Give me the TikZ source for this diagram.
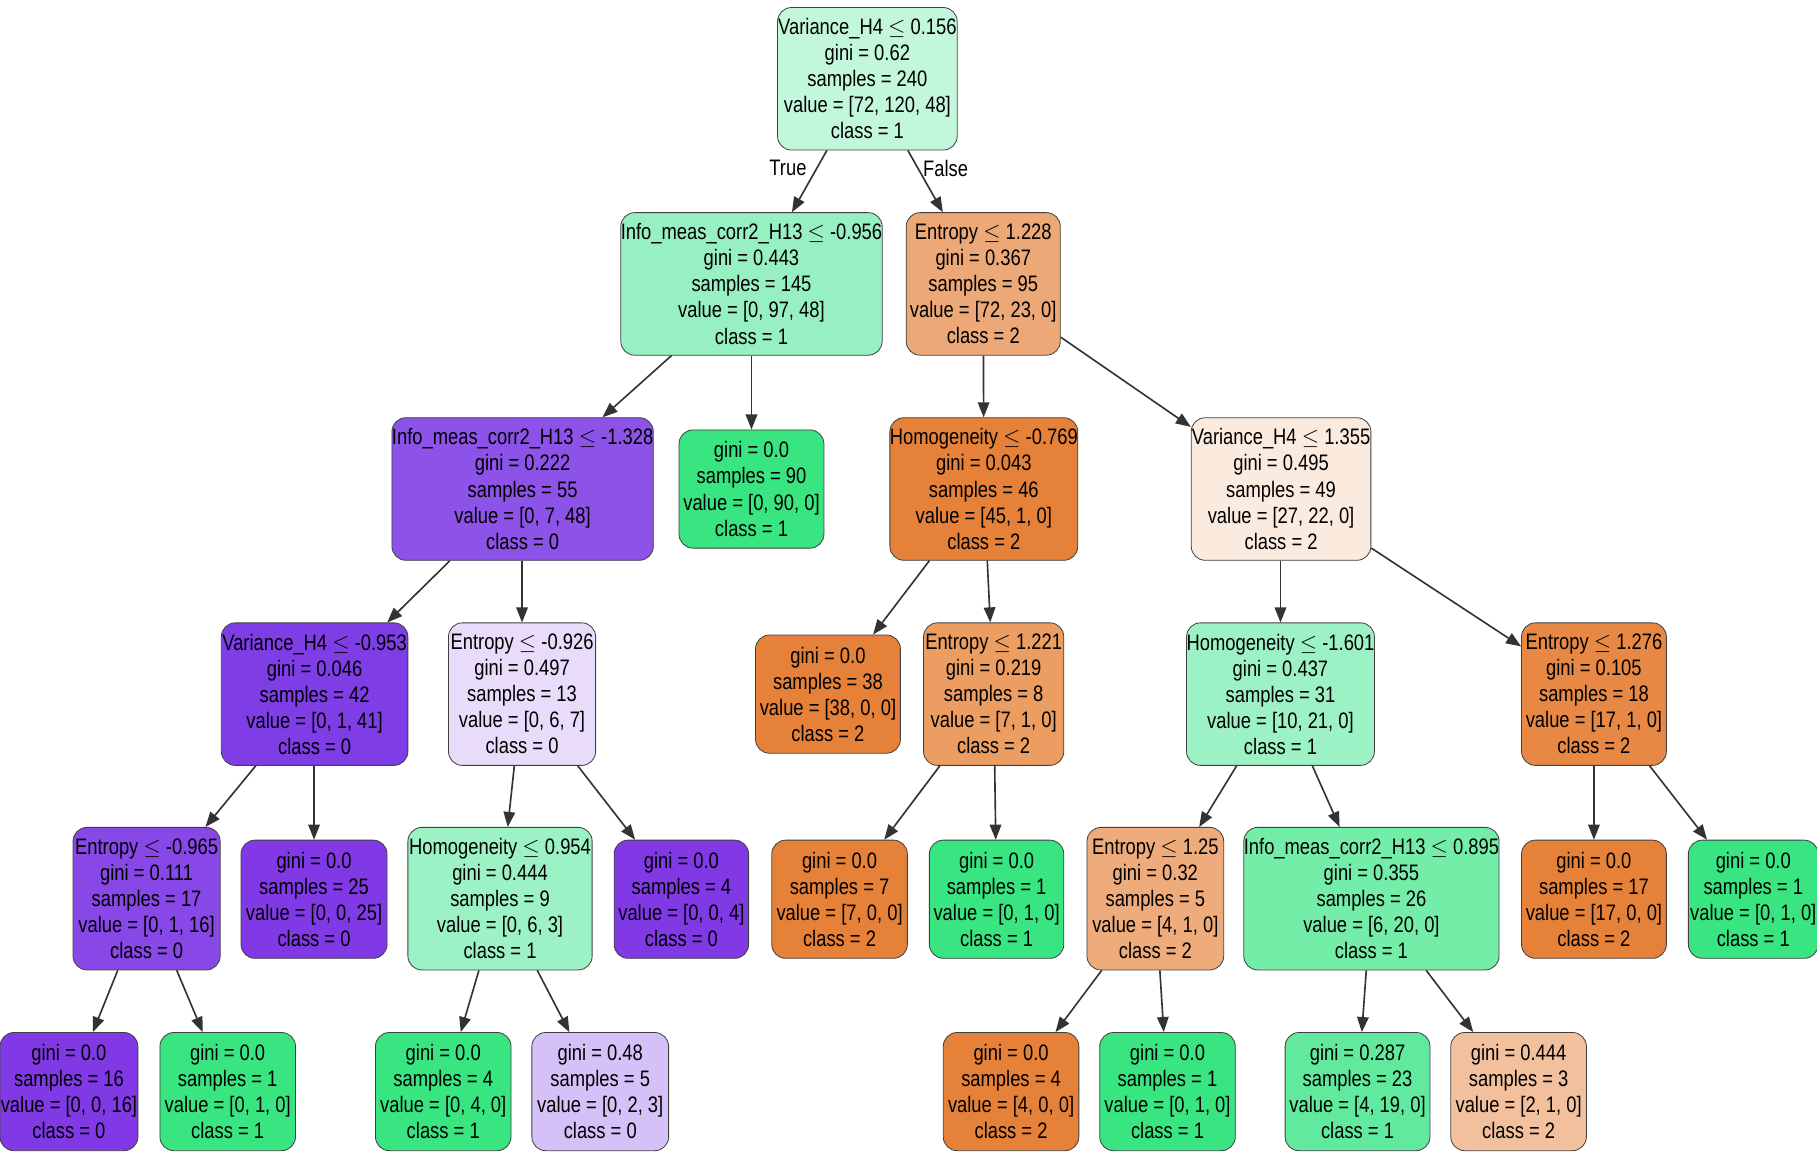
\documentclass[tikz,border=0pt]{standalone}
\usepackage{fontspec}
\setmainfont{Liberation Sans}[FakeStretch=0.82]
\usepackage{amssymb}
\usetikzlibrary{arrows.meta}
\tikzset{>={Triangle[length=2.6mm,width=2mm]}}
\definecolor{rootc}{HTML}{C3F7DC}
\definecolor{gA}{HTML}{97F0C1}
\definecolor{gB}{HTML}{39E581}
\definecolor{gC}{HTML}{9CF2C4}
\definecolor{gD}{HTML}{74EDA9}
\definecolor{gE}{HTML}{61EA9E}
\definecolor{oA}{HTML}{EDA877}
\definecolor{oB}{HTML}{E58139}
\definecolor{oC}{HTML}{FBEADE}
\definecolor{oD}{HTML}{EB9D62}
\definecolor{oE}{HTML}{E78945}
\definecolor{oF}{HTML}{EEAB7B}
\definecolor{oG}{HTML}{F2C09C}
\definecolor{pA}{HTML}{8D52E8}
\definecolor{pB}{HTML}{7F3DE6}
\definecolor{pC}{HTML}{E9DCFA}
\definecolor{pD}{HTML}{8847E7}
\definecolor{pE}{HTML}{8139E5}
\definecolor{pF}{HTML}{D5C1F7}
\tikzset{
  box/.style={draw=black!75, rounded corners=2.4mm, align=center, inner sep=0pt,
    font=\fontsize{11}{12.8}\selectfont, minimum height=24.6mm},
  leaf/.style={box, minimum height=20.4mm},
  edge/.style={->, black!80, thick}
}
\begin{document}
\begin{tikzpicture}[x=0.2mm,y=-0.2mm]
    \useasboundingbox (0,0) rectangle (1568,1009);
    % level 0
    \node[box, fill=rootc, minimum width=31mm] (root) at (748.5,68) {Variance\_H4 $\leq$ 0.156\\gini = 0.62\\samples = 240\\value = [72, 120, 48]\\class = 1};
    % level 1
    \node[box, fill=gA, minimum width=44.6mm] (imcA) at (648.5,245) {Info\_meas\_corr2\_H13 $\leq$ -0.956\\gini = 0.443\\samples = 145\\value = [0, 97, 48]\\class = 1};
    \node[box, fill=oA, minimum width=26.6mm] (entA) at (848.5,245) {Entropy $\leq$ 1.228\\gini = 0.367\\samples = 95\\value = [72, 23, 0]\\class = 2};
    % level 2
    \node[box, fill=pA, minimum width=44.8mm] (imcB) at (451,422) {Info\_meas\_corr2\_H13 $\leq$ -1.328\\gini = 0.222\\samples = 55\\value = [0, 7, 48]\\class = 0};
    \node[leaf, fill=gB, minimum width=25mm] (lfA) at (648.5,422) {gini = 0.0\\samples = 90\\value = [0, 90, 0]\\class = 1};
    \node[box, fill=oB, minimum width=32.4mm] (homA) at (849,422) {Homogeneity $\leq$ -0.769\\gini = 0.043\\samples = 46\\value = [45, 1, 0]\\class = 2};
    \node[box, fill=oC, minimum width=31mm] (varA) at (1105.5,422) {Variance\_H4 $\leq$ 1.355\\gini = 0.495\\samples = 49\\value = [27, 22, 0]\\class = 2};
    % level 3
    \node[box, fill=pB, minimum width=32.2mm] (varB) at (271.5,599) {Variance\_H4 $\leq$ -0.953\\gini = 0.046\\samples = 42\\value = [0, 1, 41]\\class = 0};
    \node[box, fill=pC, minimum width=25.4mm] (entB) at (450.5,599) {Entropy $\leq$ -0.926\\gini = 0.497\\samples = 13\\value = [0, 6, 7]\\class = 0};
    \node[leaf, fill=oB, minimum width=25mm] (lfB) at (714.5,599) {gini = 0.0\\samples = 38\\value = [38, 0, 0]\\class = 2};
    \node[box, fill=oD, minimum width=24.2mm] (entC) at (857.5,599) {Entropy $\leq$ 1.221\\gini = 0.219\\samples = 8\\value = [7, 1, 0]\\class = 2};
    \node[box, fill=gC, minimum width=32.4mm] (homB) at (1105,599) {Homogeneity $\leq$ -1.601\\gini = 0.437\\samples = 31\\value = [10, 21, 0]\\class = 1};
    \node[box, fill=oE, minimum width=25mm] (entD) at (1375.5,599) {Entropy $\leq$ 1.276\\gini = 0.105\\samples = 18\\value = [17, 1, 0]\\class = 2};
    % level 4
    \node[box, fill=pD, minimum width=25.4mm] (entE) at (126.5,775.5) {Entropy $\leq$ -0.965\\gini = 0.111\\samples = 17\\value = [0, 1, 16]\\class = 0};
    \node[leaf, fill=pE, minimum width=25.2mm] (lfC) at (271,776) {gini = 0.0\\samples = 25\\value = [0, 0, 25]\\class = 0};
    \node[box, fill=gC, minimum width=31.8mm] (homC) at (431.5,775.5) {Homogeneity $\leq$ 0.954\\gini = 0.444\\samples = 9\\value = [0, 6, 3]\\class = 1};
    \node[leaf, fill=pE, minimum width=23.2mm] (lfD) at (588,776) {gini = 0.0\\samples = 4\\value = [0, 0, 4]\\class = 0};
    \node[leaf, fill=oB, minimum width=23.4mm] (lfE) at (724.5,776) {gini = 0.0\\samples = 7\\value = [7, 0, 0]\\class = 2};
    \node[leaf, fill=gB, minimum width=23.2mm] (lfF) at (860,776) {gini = 0.0\\samples = 1\\value = [0, 1, 0]\\class = 1};
    \node[box, fill=oF, minimum width=23.6mm] (entF) at (997,775.5) {Entropy $\leq$ 1.25\\gini = 0.32\\samples = 5\\value = [4, 1, 0]\\class = 2};
    \node[box, fill=gD, minimum width=43.8mm] (imcC) at (1183.5,775.5) {Info\_meas\_corr2\_H13 $\leq$ 0.895\\gini = 0.355\\samples = 26\\value = [6, 20, 0]\\class = 1};
    \node[leaf, fill=oB, minimum width=25mm] (lfG) at (1375.5,776) {gini = 0.0\\samples = 17\\value = [17, 0, 0]\\class = 2};
    \node[leaf, fill=gB, minimum width=22.4mm] (lfH) at (1513,776) {gini = 0.0\\samples = 1\\value = [0, 1, 0]\\class = 1};
    % level 5
    \node[leaf, fill=pE, minimum width=23.8mm] (lfI) at (59.5,942) {gini = 0.0\\samples = 16\\value = [0, 0, 16]\\class = 0};
    \node[leaf, fill=gB, minimum width=23.4mm] (lfJ) at (196.5,942) {gini = 0.0\\samples = 1\\value = [0, 1, 0]\\class = 1};
    \node[leaf, fill=gB, minimum width=23.4mm] (lfK) at (382.5,942) {gini = 0.0\\samples = 4\\value = [0, 4, 0]\\class = 1};
    \node[leaf, fill=pF, minimum width=23.6mm] (lfL) at (518,942) {gini = 0.48\\samples = 5\\value = [0, 2, 3]\\class = 0};
    \node[leaf, fill=oB, minimum width=23.4mm] (lfM) at (872.5,942) {gini = 0.0\\samples = 4\\value = [4, 0, 0]\\class = 2};
    \node[leaf, fill=gB, minimum width=23.4mm] (lfN) at (1007.5,942) {gini = 0.0\\samples = 1\\value = [0, 1, 0]\\class = 1};
    \node[leaf, fill=gE, minimum width=25mm] (lfO) at (1171.5,942) {gini = 0.287\\samples = 23\\value = [4, 19, 0]\\class = 1};
    \node[leaf, fill=oG, minimum width=23.4mm] (lfP) at (1310.5,942) {gini = 0.444\\samples = 3\\value = [2, 1, 0]\\class = 2};

    \draw[edge] (root) -- (imcA);
    \draw[edge] (root) -- (entA);
    \node[font=\fontsize{11}{12.8}\selectfont] (lblT) at (680,145) {True};
    \node[font=\fontsize{11}{12.8}\selectfont] (lblF) at (816,145) {False};
    \draw[edge] (imcA) -- (imcB);
    \draw[edge] (imcA.south -| lfA) -- (lfA);
    \draw[edge] (entA) -- (homA);
    \draw[edge] (entA) -- (varA);
    \draw[edge] (imcB) -- (varB);
    \draw[edge] (imcB.south -| entB) -- (entB);
    \draw[edge] (homA) -- (lfB);
    \draw[edge] (homA) -- (entC);
    \draw[edge] (varA.south -| homB) -- (homB);
    \draw[edge] (varA) -- (entD);
    \draw[edge] (varB) -- (entE);
    \draw[edge] (varB.south -| lfC) -- (lfC);
    \draw[edge] (entB) -- (homC);
    \draw[edge] (entB) -- (lfD);
    \draw[edge] (entC) -- (lfE);
    \draw[edge] (entC) -- (lfF);
    \draw[edge] (homB) -- (entF);
    \draw[edge] (homB) -- (imcC);
    \draw[edge] (entD.south -| lfG) -- (lfG);
    \draw[edge] (entD) -- (lfH);
    \draw[edge] (entE) -- (lfI);
    \draw[edge] (entE) -- (lfJ);
    \draw[edge] (homC) -- (lfK);
    \draw[edge] (homC) -- (lfL);
    \draw[edge] (entF) -- (lfM);
    \draw[edge] (entF) -- (lfN);
    \draw[edge] (imcC) -- (lfO);
    \draw[edge] (imcC) -- (lfP);
\end{tikzpicture}
\end{document}
